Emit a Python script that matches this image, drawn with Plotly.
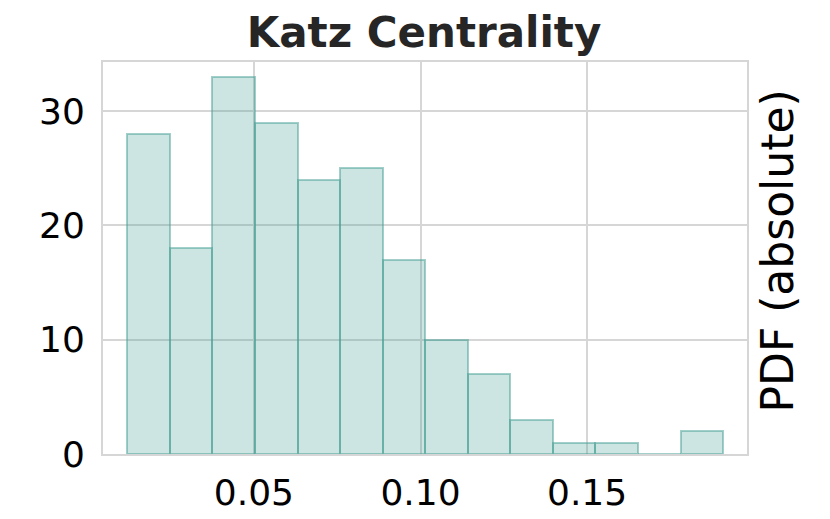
import plotly.graph_objects as go

# границы бинов гистограммы (Katz centrality)
bin_edges = [0.0120, 0.0248, 0.0375, 0.0503, 0.0631, 0.0759, 0.0886, 0.1014,
             0.1142, 0.1270, 0.1398, 0.1525, 0.1653, 0.1781, 0.1908]
# число узлов в каждом бине
counts = [28, 18, 33, 29, 24, 25, 17, 10, 7, 3, 1, 1, 0, 2]

x_ticks = [0.05, 0.10, 0.15]
x_tick_text = ['0.05', '0.10', '0.15']
y_ticks = [0, 10, 20, 30]

lefts = bin_edges[:-1]
widths = [b - a for a, b in zip(bin_edges[:-1], bin_edges[1:])]

fig = go.Figure()
fig.add_trace(go.Bar(x=lefts, y=counts, width=widths, offset=0,
                     marker=dict(color='rgba(69,160,148,0.27)',
                                 line=dict(color='rgba(69,160,148,0.5)', width=2)),
                     showlegend=False))

grid = '#d6d6d6'
fig.update_layout(
    width=830, height=519,
    margin=dict(l=103, r=83, t=62, b=65, autoexpand=False),
    plot_bgcolor='white', paper_bgcolor='white',
    font=dict(family='DejaVu Sans', color='black', size=36),
    bargap=0,
    title=dict(text='<b>Katz Centrality</b>', x=424 / 830, xanchor='center',
               y=1 - 32 / 519, yanchor='middle', yref='container',
               font=dict(size=42, color='#262626'), automargin=False),
    xaxis=dict(range=[0.0047, 0.198], tickvals=x_ticks, ticktext=x_tick_text,
               showgrid=True, gridcolor=grid, gridwidth=2, zeroline=False,
               showline=True, mirror=True, linecolor=grid, linewidth=2,
               ticks='', ticklabelstandoff=6, automargin=False,
               layer='above traces'),
    yaxis=dict(range=[0, 34.3], tickvals=y_ticks,
               showgrid=True, gridcolor=grid, gridwidth=2, zeroline=False,
               showline=True, mirror=True, linecolor=grid, linewidth=2,
               ticks='', ticklabelstandoff=9, automargin=False),
)
fig.add_annotation(text='PDF (absolute)', textangle=-90, xref='paper', yref='paper',
                   x=1, xanchor='left', xshift=2, y=0.5, yanchor='middle', yshift=7,
                   showarrow=False, font=dict(size=44, color='black'))

# убираем отступ body, чтобы фигура стояла в углу окна
fig.write_html("out.html", config={'displayModeBar': False},
               post_script="document.body.style.margin='0';")
